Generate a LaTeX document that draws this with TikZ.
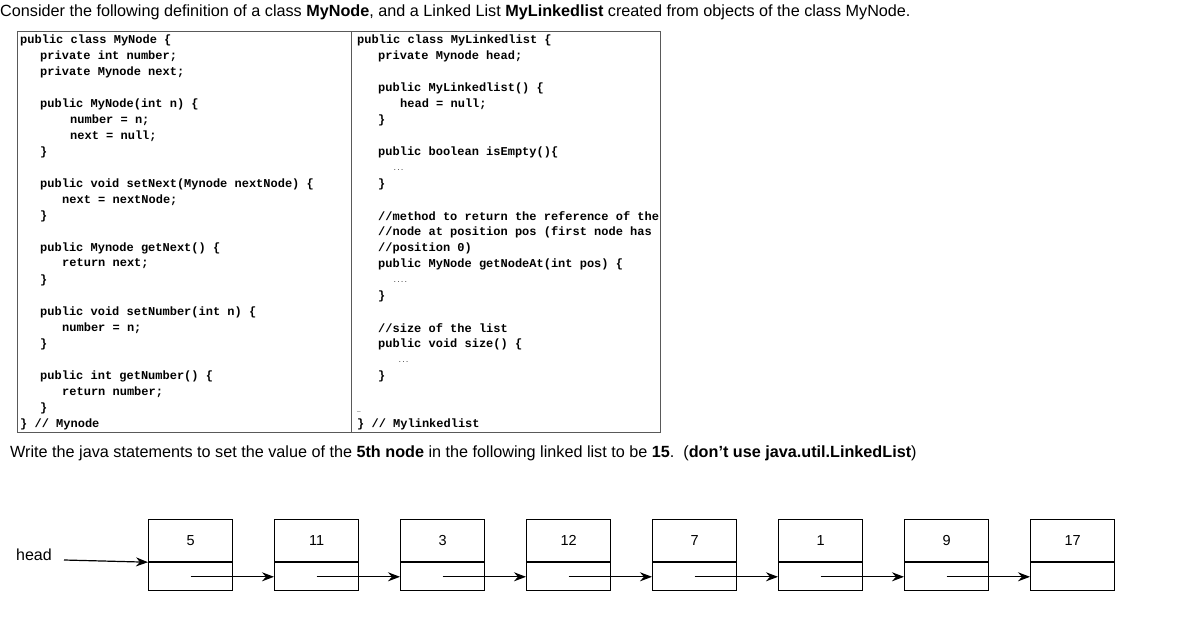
\documentclass[tikz,border=0pt]{standalone}
\usepackage{fontspec}
\setmainfont{Liberation Sans}
\newfontfamily\codefont{Liberation Mono}
\usetikzlibrary{arrows.meta}
\begin{document}
\begin{tikzpicture}[x=1pt,y=-1pt,
  code/.style={anchor=west,inner sep=0pt,font=\codefont\bfseries\fontsize{12}{12}\selectfont},
  txt/.style={anchor=west,inner sep=0pt,font=\fontsize{16.2}{18}\selectfont},
  cell/.style={draw,line width=1.2pt,minimum width=84pt,minimum height=42pt,inner sep=0pt,font=\fontsize{14.5}{16}\selectfont},
  ptr/.style={draw,line width=1.2pt,minimum width=84pt,minimum height=28pt,inner sep=0pt},
  link/.style={line width=1.2pt,-{Stealth[length=12pt,width=9pt]}}]
\useasboundingbox (0,0) rectangle (1190,620);
\node[txt] (title) at (0,12) {Consider the following definition of a class \textbf{MyNode}, and a Linked List \textbf{MyLinkedlist} created from objects of the class MyNode.};
\draw[line width=1pt,gray!70!black] (17,32) rectangle (351,432);
\draw[line width=1pt,gray!70!black] (351,32) rectangle (660,432);
% left code
\foreach \x/\y/\t in {20/40/{public class MyNode \{},40/56/{private int number;},40/72/{private Mynode next;},
 40/104/{public MyNode(int n) \{},70/120/{number = n;},70/136/{next = null;},40/152/{\}},
 40/184/{public void setNext(Mynode nextNode) \{},62/200/{next = nextNode;},40/216/{\}},
 40/248/{public Mynode getNext() \{},62/264/{return next;},40/280/{\}},
 40/312/{public void setNumber(int n) \{},62/328/{number = n;},40/344/{\}},
 40/376/{public int getNumber() \{},62/392/{return number;},40/408/{\}},20/424/{\} // Mynode}}
 \node[code] at (\x,\y) {\t};
% right code
\foreach \x/\y/\t in {357/40/{public class MyLinkedlist \{},378/56/{private Mynode head;},
 378/88/{public MyLinkedlist() \{},400/104/{head = null;},378/120/{\}},
 378/152/{public boolean isEmpty()\{},378/184/{\}},
 378/216/{//method to return the reference of the},378/232/{//node at position pos (first node has},
 378/248/{//position 0)},378/264/{public MyNode getNodeAt(int pos) \{},378/296/{\}},
 378/328/{//size of the list},378/344/{public void size() \{},378/376/{\}},357/424/{\} // Mylinkedlist}}
 \node[code] at (\x,\y) {\t};
\node[code,font=\codefont\fontsize{6}{6}\selectfont] at (393,170) {...};
\node[code,font=\codefont\fontsize{6}{6}\selectfont] at (393,282) {....};
\node[code,font=\codefont\fontsize{6}{6}\selectfont] at (398,362) {...};
\node[code,font=\codefont\fontsize{6}{6}\selectfont] at (357,412) {\_};
\node[txt] (q) at (10,453) {Write the java statements to set the value of the \textbf{5th node} in the following linked list to be \textbf{15}.\ \ (\textbf{don’t use java.util.LinkedList})};
% list
\node[anchor=west,inner sep=0pt,font=\fontsize{16}{18}\selectfont] (head) at (16,555) {head};
\foreach \i/\v in {0/5,1/11,2/3,3/12,4/7,5/1,6/9,7/17}{
  \node[cell,anchor=north west] (v\i) at (148+126*\i,519) {\v};
  \node[ptr,anchor=north] (p\i) at (v\i.south) {};
}
\coordinate (hs) at (64,560);
\draw[link] (hs) -- (v0.south west);
\foreach \i [evaluate=\i as \j using int(\i+1)] in {0,...,6}
  \draw[link] (p\i.center) -- (p\j.west);
\end{tikzpicture}
\end{document}
